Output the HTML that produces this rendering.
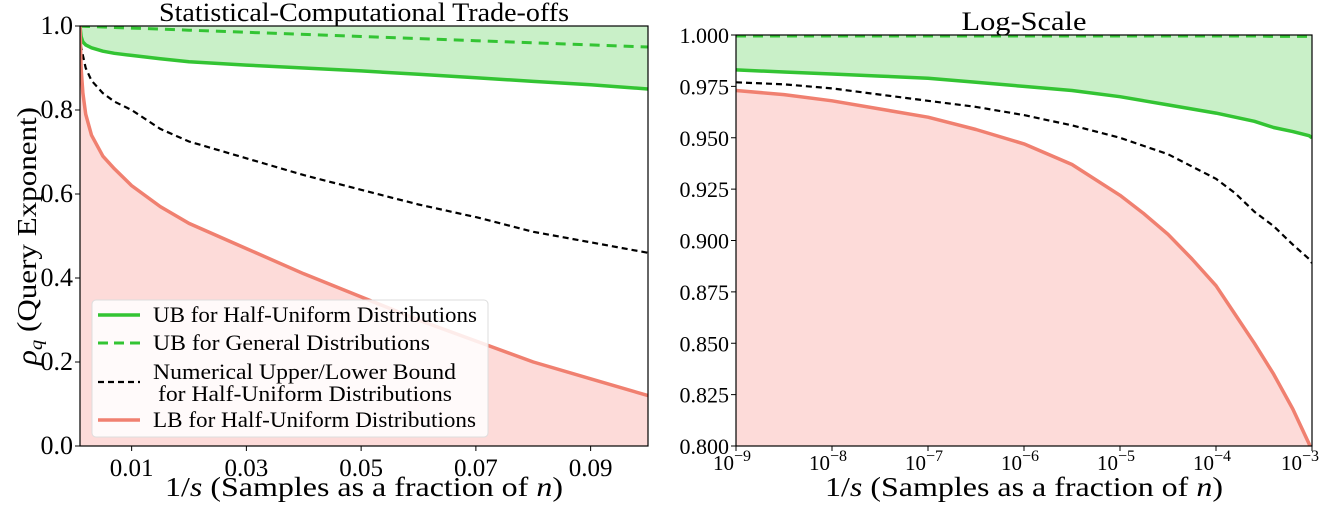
<!DOCTYPE html>
<html><head><meta charset="utf-8"><style>
html,body{margin:0;padding:0;background:#fff;overflow:hidden;width:1320px;height:510px;}
svg{display:block;}
svg text{font-family:"Liberation Serif","DejaVu Serif",serif;fill:#000;}
</style></head><body>
<svg id="c" width="1320" height="510" viewBox="0 0 1320 510"></svg>
<script>
// Left panel data
const leftX = [0.001,0.0012,0.0015,0.002,0.003,0.005,0.007,0.01,0.015,0.02,0.03,0.04,0.05,0.06,0.07,0.08,0.09,0.1];
const leftUBHalf = [1.0,0.975,0.962,0.955,0.948,0.94,0.935,0.93,0.922,0.915,0.907,0.9,0.893,0.885,0.877,0.868,0.86,0.85];
const leftUBGen = [0.9995,0.9994,0.9992,0.999,0.9985,0.9975,0.9965,0.995,0.9925,0.99,0.985,0.98,0.975,0.97,0.965,0.96,0.955,0.95];
const leftNum = [0.98,0.95,0.93,0.9,0.87,0.84,0.82,0.8,0.755,0.725,0.685,0.645,0.61,0.575,0.545,0.51,0.485,0.46];
const leftLB = [1.0,0.9,0.84,0.79,0.74,0.69,0.66,0.62,0.57,0.53,0.47,0.41,0.355,0.3,0.25,0.2,0.16,0.12];
const leftXTicks = [0.01,0.03,0.05,0.07,0.09];
const leftYTicks = [0.0,0.2,0.4,0.6,0.8,1.0];
// Right panel data (x as log10 exponent)
const rightX = [-9,-8.5,-8,-7.5,-7,-6.5,-6,-5.5,-5,-4.75,-4.5,-4.25,-4,-3.8,-3.6,-3.4,-3.2,-3.03,-3];
const rightUBHalf = [0.983,0.982,0.981,0.980,0.979,0.977,0.975,0.973,0.970,0.968,0.966,0.964,0.962,0.960,0.958,0.955,0.953,0.951,0.950];
const rightUBGen = [0.9995,0.9995,0.9995,0.9995,0.9995,0.9995,0.9995,0.9995,0.9995,0.9995,0.9995,0.9995,0.9995,0.9995,0.9995,0.9993,0.9993,0.9993,0.9993];
const rightNum = [0.977,0.976,0.974,0.971,0.968,0.965,0.961,0.956,0.950,0.946,0.942,0.936,0.930,0.923,0.914,0.907,0.898,0.891,0.889];
const rightLB = [0.973,0.971,0.968,0.964,0.960,0.954,0.947,0.937,0.922,0.913,0.903,0.891,0.878,0.864,0.850,0.835,0.818,0.801,0.797];
const rightXTicks = [-9,-8,-7,-6,-5,-4,-3];
const rightYTicks = [0.800,0.825,0.850,0.875,0.900,0.925,0.950,0.975,1.000];

const svg = document.getElementById('c');
const NS = 'http://www.w3.org/2000/svg';
function mk(tag, attrs, parent){const e=document.createElementNS(NS,tag);for(const k in attrs)e.setAttribute(k,attrs[k]);(parent||svg).appendChild(e);return e;}

function panel(o){
  const g = mk('g',{});
  
  
  const sx = v => o.x0 + (v - o.xmin)/(o.xmax - o.xmin)*(o.x1 - o.x0);
  const sy = v => o.y1 - (v - o.ymin)/(o.ymax - o.ymin)*(o.y1 - o.y0);
  const clip = mk('clipPath',{id:o.name+'-clip'},g);
  mk('rect',{x:o.x0,y:o.y0,width:o.x1-o.x0,height:o.y1-o.y0},clip);
  const pg = mk('g',{'clip-path':'url(#'+o.name+'-clip)'},g);
  const pts = ys => o.xs.map((x,i)=>sx(x).toFixed(1)+','+sy(ys[i]).toFixed(1));
  let d = 'M'+pts(o.ubh).join(' L')+' L'+sx(o.xs[o.xs.length-1])+','+sy(o.ymax)+' L'+sx(o.xs[0])+','+sy(o.ymax)+'Z';
  const gf = mk('path',{d:d,fill:'#c9f0c8',stroke:'none'},pg);
  
  
  d = 'M'+pts(o.lb).join(' L')+' L'+sx(o.xs[o.xs.length-1])+','+sy(o.ymin-1)+' L'+sx(o.xs[0])+','+sy(o.ymin-1)+'Z';
  const rf = mk('path',{d:d,fill:'#fddbd9',stroke:'none'},pg);
  
  
  const lines = [[o.ubg,'#33c433',3,'10,7','ub-general-line'],[o.ubh,'#33c433',3.5,'','ub-half-uniform-line'],[o.num,'#000',2.2,'6,4','numerical-bound-line'],[o.lb,'#f08070',3.5,'','lb-half-uniform-line']];
  lines.forEach(L=>{
    const p = mk('polyline',{points:pts(L[0]).join(' '),fill:'none',stroke:L[1],'stroke-width':L[2],'stroke-dasharray':L[3]||'none','stroke-linejoin':'round'},pg);
    
    
  });
  mk('rect',{x:o.x0,y:o.y0,width:o.x1-o.x0,height:o.y1-o.y0,fill:'none',stroke:'#000','stroke-width':1.2},g);
  o.yt.forEach(v=>{
    const y=sy(v);
    mk('line',{x1:o.x0-5,x2:o.x0,y1:y,y2:y,stroke:'#000'},g);
    const t=mk('text',{x:o.x0-7,y:y+8,'text-anchor':'end','font-size':o.yfs},g);
    t.textContent=v.toFixed(o.ydec);
    
    
  });
  o.xt.forEach((v,i)=>{
    const x=sx(v);
    mk('line',{x1:x,x2:x,y1:o.y1,y2:o.y1+5,stroke:'#000'},g);
    const last = o.log && i===o.xt.length-1;
    const t=mk('text',{x:last?1319:(o.log?x-4:x),y:o.y1+(o.log?24:30),'text-anchor':last?'end':'middle','font-size':o.log?21:25},g);
    if(o.log){t.textContent='10';const s=mk('tspan',{dy:-9,'font-size':16},t);s.textContent='\u2212'+(-v);}
    else t.textContent=v.toFixed(2);
    
    
  });
  const tt=mk('text',{x:(o.x0+o.x1)/2,y:o.y0-5,'text-anchor':'middle','font-size':26,textLength:o.titleW,lengthAdjust:'spacingAndGlyphs'},g);
  tt.textContent=o.title;
  
  
  const xl=mk('text',{x:(o.x0+o.x1)/2,y:o.y1+50,'text-anchor':'middle','font-size':27,textLength:398,lengthAdjust:'spacingAndGlyphs'},g);
  xl.innerHTML='1/<tspan font-style="italic">s</tspan> (Samples as a fraction of <tspan font-style="italic">n</tspan>)';
  
  
}
panel({name:'left-panel',x0:80,x1:648,y0:26,y1:446,xmin:0.001,xmax:0.1,ymin:0,ymax:1,xs:leftX,ubh:leftUBHalf,ubg:leftUBGen,num:leftNum,lb:leftLB,xt:leftXTicks,yt:leftYTicks,ydec:1,yfs:26,title:'Statistical-Computational Trade-offs',titleW:410});
panel({name:'right-panel',x0:736,x1:1312,y0:35,y1:446,xmin:-9,xmax:-3,ymin:0.8,ymax:1,xs:rightX,ubh:rightUBHalf,ubg:rightUBGen,num:rightNum,lb:rightLB,xt:rightXTicks,yt:rightYTicks,ydec:3,yfs:22,log:true,title:'Log-Scale',titleW:125});
const yl=mk('text',{x:0,y:0,'text-anchor':'middle','font-size':27,transform:'translate(36,236) rotate(-90)',textLength:258,lengthAdjust:'spacingAndGlyphs'});
yl.innerHTML='<tspan font-style="italic">ρ</tspan><tspan font-size="18" dy="6" font-style="italic">q</tspan><tspan dy="-6"> (Query Exponent)</tspan>';


const lg=mk('g',{});


mk('rect',{x:92,y:300,width:396,height:137,rx:4,fill:'#fff','fill-opacity':0.85,stroke:'#ddd'},lg);
const legItems=[[315,'#33c433',3.5,'','UB for Half-Uniform Distributions',324],[343,'#33c433',3,'10,6','UB for General Distributions',277],[382,'#000',2.2,'6,4','',0],[420,'#f08070',3.5,'','LB for Half-Uniform Distributions',323]];
legItems.forEach(L=>{
  const e=mk('g',{},lg);
  
  
  mk('line',{x1:98,x2:140,y1:L[0],y2:L[0],stroke:L[1],'stroke-width':L[2],'stroke-dasharray':L[3]||'none'},e);
  if(L[4]){const t=mk('text',{x:153,y:L[0]+7,'font-size':22,textLength:L[5],lengthAdjust:'spacingAndGlyphs'},e);t.textContent=L[4];}
  else{const t=mk('text',{x:153,y:L[0]-3,'font-size':22,textLength:303,lengthAdjust:'spacingAndGlyphs'},e);t.textContent='Numerical Upper/Lower Bound';
    const t2=mk('text',{x:158,y:L[0]+19,'font-size':22,textLength:294,lengthAdjust:'spacingAndGlyphs'},e);t2.textContent='for Half-Uniform Distributions';}
});
</script>
</body></html>
